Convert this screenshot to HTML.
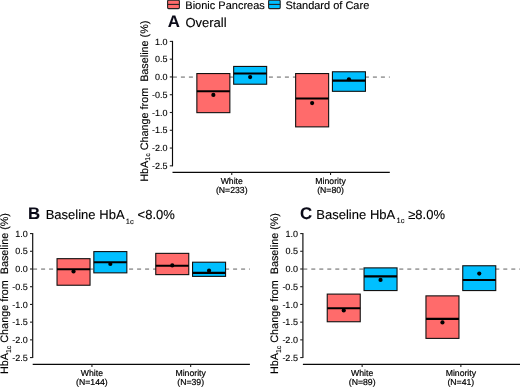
<!DOCTYPE html>
<html><head><meta charset="utf-8"><style>
html,body{margin:0;padding:0;background:#fff;width:520px;height:387px;overflow:hidden}
#wrap{will-change:transform;width:520px;height:387px}
svg{display:block;font-family:"Liberation Sans", sans-serif;text-rendering:geometricPrecision}
</style></head><body>
<div id="wrap"><svg width="520" height="387" viewBox="0 0 520 387">
<rect width="520" height="387" fill="#fff"/>

<rect x="167.6" y="0.3" width="11.8" height="8.3" rx="1" fill="#FF6B6B" stroke="#222" stroke-width="1.1"/>
<line x1="167.6" y1="4.4" x2="179.4" y2="4.4" stroke="#222" stroke-width="1.1"/>
<text x="185.3" y="8.7" font-size="11" fill="#000" stroke="#000" stroke-width="0.12">Bionic Pancreas</text>
<rect x="268.6" y="0.3" width="11.6" height="8.3" rx="1" fill="#00BFFF" stroke="#222" stroke-width="1.1"/>
<line x1="268.6" y1="4.4" x2="280.2" y2="4.4" stroke="#222" stroke-width="1.1"/>
<text x="285.5" y="8.7" font-size="11" fill="#000" stroke="#000" stroke-width="0.12">Standard of Care</text>

<line x1="172.90" y1="77.15" x2="389.80" y2="77.15" stroke="#A4A4A4" stroke-width="1.8" stroke-dasharray="4 4"/>
<rect x="196.86" y="73.55" width="33.00" height="39.10" fill="#FF6B6B" stroke="#111" stroke-width="1.1"/>
<line x1="196.86" y1="91.32" x2="229.86" y2="91.32" stroke="#000" stroke-width="2.1"/>
<circle cx="213.36" cy="94.88" r="2.1" fill="#000"/>
<rect x="233.66" y="66.44" width="33.00" height="17.78" fill="#00BFFF" stroke="#111" stroke-width="1.1"/>
<line x1="233.66" y1="73.55" x2="266.66" y2="73.55" stroke="#000" stroke-width="2.1"/>
<circle cx="250.16" cy="77.10" r="2.1" fill="#000"/>
<rect x="295.64" y="73.55" width="33.00" height="53.32" fill="#FF6B6B" stroke="#111" stroke-width="1.1"/>
<line x1="295.64" y1="98.43" x2="328.64" y2="98.43" stroke="#000" stroke-width="2.1"/>
<circle cx="312.14" cy="103.05" r="2.1" fill="#000"/>
<rect x="332.44" y="71.77" width="33.00" height="19.55" fill="#00BFFF" stroke="#111" stroke-width="1.1"/>
<line x1="332.44" y1="80.66" x2="365.44" y2="80.66" stroke="#000" stroke-width="2.1"/>
<circle cx="348.94" cy="79.23" r="2.1" fill="#000"/>
<line x1="172.50" y1="40.90" x2="172.50" y2="166.32" stroke="#080808" stroke-width="1.15"/>
<line x1="169.80" y1="41.40" x2="172.50" y2="41.40" stroke="#222" stroke-width="1.1"/>
<text x="167.50" y="44.60" text-anchor="end" font-size="9" fill="#000" stroke="#000" stroke-width="0.1">1.0</text>
<line x1="169.80" y1="59.18" x2="172.50" y2="59.18" stroke="#222" stroke-width="1.1"/>
<text x="167.50" y="62.38" text-anchor="end" font-size="9" fill="#000" stroke="#000" stroke-width="0.1">0.5</text>
<line x1="169.80" y1="76.95" x2="172.50" y2="76.95" stroke="#222" stroke-width="1.1"/>
<text x="167.50" y="80.15" text-anchor="end" font-size="9" fill="#000" stroke="#000" stroke-width="0.1">0.0</text>
<line x1="169.80" y1="94.72" x2="172.50" y2="94.72" stroke="#222" stroke-width="1.1"/>
<text x="167.50" y="97.92" text-anchor="end" font-size="9" fill="#000" stroke="#000" stroke-width="0.1">-0.5</text>
<line x1="169.80" y1="112.50" x2="172.50" y2="112.50" stroke="#222" stroke-width="1.1"/>
<text x="167.50" y="115.70" text-anchor="end" font-size="9" fill="#000" stroke="#000" stroke-width="0.1">-1.0</text>
<line x1="169.80" y1="130.28" x2="172.50" y2="130.28" stroke="#222" stroke-width="1.1"/>
<text x="167.50" y="133.47" text-anchor="end" font-size="9" fill="#000" stroke="#000" stroke-width="0.1">-1.5</text>
<line x1="169.80" y1="148.05" x2="172.50" y2="148.05" stroke="#222" stroke-width="1.1"/>
<text x="167.50" y="151.25" text-anchor="end" font-size="9" fill="#000" stroke="#000" stroke-width="0.1">-2.0</text>
<line x1="169.80" y1="165.82" x2="172.50" y2="165.82" stroke="#222" stroke-width="1.1"/>
<text x="167.50" y="169.02" text-anchor="end" font-size="9" fill="#000" stroke="#000" stroke-width="0.1">-2.5</text>
<line x1="172.50" y1="172.30" x2="389.80" y2="172.30" stroke="#080808" stroke-width="1.15"/>
<line x1="231.76" y1="172.30" x2="231.76" y2="175.00" stroke="#222" stroke-width="1.1"/>
<text x="231.76" y="183.90" text-anchor="middle" font-size="8.7" fill="#000" stroke="#000" stroke-width="0.2">White</text>
<text x="231.76" y="193.10" text-anchor="middle" font-size="8.7" fill="#000" stroke="#000" stroke-width="0.2">(N=233)</text>
<line x1="330.54" y1="172.30" x2="330.54" y2="175.00" stroke="#222" stroke-width="1.1"/>
<text x="330.54" y="183.90" text-anchor="middle" font-size="8.7" fill="#000" stroke="#000" stroke-width="0.2">Minority</text>
<text x="330.54" y="193.10" text-anchor="middle" font-size="8.7" fill="#000" stroke="#000" stroke-width="0.2">(N=80)</text>
<text transform="translate(148.00,181.70) rotate(-90)" x="0" y="0" font-size="10.8" fill="#000" stroke="#000" stroke-width="0.15">HbA<tspan font-size="7" dy="2.3">1c</tspan><tspan dy="-2.3"> Change from&#160; Baseline (%)</tspan></text>
<text x="167.8" y="26.8" font-size="16.8" font-weight="bold" fill="#0a0a18" stroke="#0a0a18" stroke-width="0.08">A</text>
<text x="185.4" y="27.2" font-size="13" word-spacing="0.2" fill="#000" stroke="#000" stroke-width="0.12">Overall</text>
<line x1="33.10" y1="269.20" x2="249.90" y2="269.20" stroke="#A4A4A4" stroke-width="1.8" stroke-dasharray="4 4"/>
<rect x="57.04" y="258.67" width="33.00" height="26.57" fill="#FF6B6B" stroke="#111" stroke-width="1.1"/>
<line x1="57.04" y1="269.30" x2="90.04" y2="269.30" stroke="#000" stroke-width="2.1"/>
<circle cx="73.54" cy="271.43" r="2.1" fill="#000"/>
<rect x="93.84" y="251.59" width="33.00" height="21.26" fill="#00BFFF" stroke="#111" stroke-width="1.1"/>
<line x1="93.84" y1="262.21" x2="126.84" y2="262.21" stroke="#000" stroke-width="2.1"/>
<circle cx="110.34" cy="263.99" r="2.1" fill="#000"/>
<rect x="155.76" y="253.36" width="33.00" height="21.26" fill="#FF6B6B" stroke="#111" stroke-width="1.1"/>
<line x1="155.76" y1="265.76" x2="188.76" y2="265.76" stroke="#000" stroke-width="2.1"/>
<circle cx="172.26" cy="265.40" r="2.1" fill="#000"/>
<rect x="192.56" y="262.21" width="33.00" height="14.17" fill="#00BFFF" stroke="#111" stroke-width="1.1"/>
<line x1="192.56" y1="272.84" x2="225.56" y2="272.84" stroke="#000" stroke-width="2.1"/>
<circle cx="209.06" cy="270.72" r="2.1" fill="#000"/>
<line x1="32.70" y1="233.07" x2="32.70" y2="358.07" stroke="#080808" stroke-width="1.15"/>
<line x1="30.00" y1="233.57" x2="32.70" y2="233.57" stroke="#222" stroke-width="1.1"/>
<text x="27.70" y="236.77" text-anchor="end" font-size="9" fill="#000" stroke="#000" stroke-width="0.1">1.0</text>
<line x1="30.00" y1="251.28" x2="32.70" y2="251.28" stroke="#222" stroke-width="1.1"/>
<text x="27.70" y="254.48" text-anchor="end" font-size="9" fill="#000" stroke="#000" stroke-width="0.1">0.5</text>
<line x1="30.00" y1="269.00" x2="32.70" y2="269.00" stroke="#222" stroke-width="1.1"/>
<text x="27.70" y="272.20" text-anchor="end" font-size="9" fill="#000" stroke="#000" stroke-width="0.1">0.0</text>
<line x1="30.00" y1="286.71" x2="32.70" y2="286.71" stroke="#222" stroke-width="1.1"/>
<text x="27.70" y="289.91" text-anchor="end" font-size="9" fill="#000" stroke="#000" stroke-width="0.1">-0.5</text>
<line x1="30.00" y1="304.43" x2="32.70" y2="304.43" stroke="#222" stroke-width="1.1"/>
<text x="27.70" y="307.63" text-anchor="end" font-size="9" fill="#000" stroke="#000" stroke-width="0.1">-1.0</text>
<line x1="30.00" y1="322.14" x2="32.70" y2="322.14" stroke="#222" stroke-width="1.1"/>
<text x="27.70" y="325.34" text-anchor="end" font-size="9" fill="#000" stroke="#000" stroke-width="0.1">-1.5</text>
<line x1="30.00" y1="339.86" x2="32.70" y2="339.86" stroke="#222" stroke-width="1.1"/>
<text x="27.70" y="343.06" text-anchor="end" font-size="9" fill="#000" stroke="#000" stroke-width="0.1">-2.0</text>
<line x1="30.00" y1="357.57" x2="32.70" y2="357.57" stroke="#222" stroke-width="1.1"/>
<text x="27.70" y="360.77" text-anchor="end" font-size="9" fill="#000" stroke="#000" stroke-width="0.1">-2.5</text>
<line x1="32.70" y1="364.40" x2="249.90" y2="364.40" stroke="#080808" stroke-width="1.15"/>
<line x1="91.94" y1="364.40" x2="91.94" y2="367.10" stroke="#222" stroke-width="1.1"/>
<text x="91.94" y="376.00" text-anchor="middle" font-size="8.7" fill="#000" stroke="#000" stroke-width="0.2">White</text>
<text x="91.94" y="385.20" text-anchor="middle" font-size="8.7" fill="#000" stroke="#000" stroke-width="0.2">(N=144)</text>
<line x1="190.66" y1="364.40" x2="190.66" y2="367.10" stroke="#222" stroke-width="1.1"/>
<text x="190.66" y="376.00" text-anchor="middle" font-size="8.7" fill="#000" stroke="#000" stroke-width="0.2">Minority</text>
<text x="190.66" y="385.20" text-anchor="middle" font-size="8.7" fill="#000" stroke="#000" stroke-width="0.2">(N=39)</text>
<text transform="translate(8.20,374.10) rotate(-90)" x="0" y="0" font-size="10.8" fill="#000" stroke="#000" stroke-width="0.15">HbA<tspan font-size="7" dy="2.3">1c</tspan><tspan dy="-2.3"> Change from&#160; Baseline (%)</tspan></text>
<text x="27.9" y="219.3" font-size="16.8" font-weight="bold" fill="#0a0a18" stroke="#0a0a18" stroke-width="0.08">B</text>
<text x="45.7" y="219.1" font-size="13" word-spacing="0.2" fill="#000" stroke="#000" stroke-width="0.12">Baseline HbA<tspan font-size="7.5" dx="1.2" dy="4.4">1c</tspan><tspan dy="-4.4"> &lt;8.0%</tspan></text>
<line x1="303.30" y1="269.20" x2="520.10" y2="269.20" stroke="#A4A4A4" stroke-width="1.8" stroke-dasharray="4 4"/>
<rect x="327.24" y="294.10" width="33.00" height="27.64" fill="#FF6B6B" stroke="#111" stroke-width="1.1"/>
<line x1="327.24" y1="308.27" x2="360.24" y2="308.27" stroke="#000" stroke-width="2.1"/>
<circle cx="343.74" cy="310.40" r="2.1" fill="#000"/>
<rect x="364.04" y="267.88" width="33.00" height="22.68" fill="#00BFFF" stroke="#111" stroke-width="1.1"/>
<line x1="364.04" y1="276.39" x2="397.04" y2="276.39" stroke="#000" stroke-width="2.1"/>
<circle cx="380.54" cy="279.93" r="2.1" fill="#000"/>
<rect x="425.96" y="295.87" width="33.00" height="42.52" fill="#FF6B6B" stroke="#111" stroke-width="1.1"/>
<line x1="425.96" y1="318.90" x2="458.96" y2="318.90" stroke="#000" stroke-width="2.1"/>
<circle cx="442.46" cy="322.44" r="2.1" fill="#000"/>
<rect x="462.76" y="265.76" width="33.00" height="24.80" fill="#00BFFF" stroke="#111" stroke-width="1.1"/>
<line x1="462.76" y1="279.93" x2="495.76" y2="279.93" stroke="#000" stroke-width="2.1"/>
<circle cx="479.26" cy="273.55" r="2.1" fill="#000"/>
<line x1="302.90" y1="233.07" x2="302.90" y2="358.07" stroke="#080808" stroke-width="1.15"/>
<line x1="300.20" y1="233.57" x2="302.90" y2="233.57" stroke="#222" stroke-width="1.1"/>
<text x="297.90" y="236.77" text-anchor="end" font-size="9" fill="#000" stroke="#000" stroke-width="0.1">1.0</text>
<line x1="300.20" y1="251.28" x2="302.90" y2="251.28" stroke="#222" stroke-width="1.1"/>
<text x="297.90" y="254.48" text-anchor="end" font-size="9" fill="#000" stroke="#000" stroke-width="0.1">0.5</text>
<line x1="300.20" y1="269.00" x2="302.90" y2="269.00" stroke="#222" stroke-width="1.1"/>
<text x="297.90" y="272.20" text-anchor="end" font-size="9" fill="#000" stroke="#000" stroke-width="0.1">0.0</text>
<line x1="300.20" y1="286.71" x2="302.90" y2="286.71" stroke="#222" stroke-width="1.1"/>
<text x="297.90" y="289.91" text-anchor="end" font-size="9" fill="#000" stroke="#000" stroke-width="0.1">-0.5</text>
<line x1="300.20" y1="304.43" x2="302.90" y2="304.43" stroke="#222" stroke-width="1.1"/>
<text x="297.90" y="307.63" text-anchor="end" font-size="9" fill="#000" stroke="#000" stroke-width="0.1">-1.0</text>
<line x1="300.20" y1="322.14" x2="302.90" y2="322.14" stroke="#222" stroke-width="1.1"/>
<text x="297.90" y="325.34" text-anchor="end" font-size="9" fill="#000" stroke="#000" stroke-width="0.1">-1.5</text>
<line x1="300.20" y1="339.86" x2="302.90" y2="339.86" stroke="#222" stroke-width="1.1"/>
<text x="297.90" y="343.06" text-anchor="end" font-size="9" fill="#000" stroke="#000" stroke-width="0.1">-2.0</text>
<line x1="300.20" y1="357.57" x2="302.90" y2="357.57" stroke="#222" stroke-width="1.1"/>
<text x="297.90" y="360.77" text-anchor="end" font-size="9" fill="#000" stroke="#000" stroke-width="0.1">-2.5</text>
<line x1="302.90" y1="364.40" x2="520.10" y2="364.40" stroke="#080808" stroke-width="1.15"/>
<line x1="362.14" y1="364.40" x2="362.14" y2="367.10" stroke="#222" stroke-width="1.1"/>
<text x="362.14" y="376.00" text-anchor="middle" font-size="8.7" fill="#000" stroke="#000" stroke-width="0.2">White</text>
<text x="362.14" y="385.20" text-anchor="middle" font-size="8.7" fill="#000" stroke="#000" stroke-width="0.2">(N=89)</text>
<line x1="460.86" y1="364.40" x2="460.86" y2="367.10" stroke="#222" stroke-width="1.1"/>
<text x="460.86" y="376.00" text-anchor="middle" font-size="8.7" fill="#000" stroke="#000" stroke-width="0.2">Minority</text>
<text x="460.86" y="385.20" text-anchor="middle" font-size="8.7" fill="#000" stroke="#000" stroke-width="0.2">(N=41)</text>
<text transform="translate(278.40,374.10) rotate(-90)" x="0" y="0" font-size="10.8" fill="#000" stroke="#000" stroke-width="0.15">HbA<tspan font-size="7" dy="2.3">1c</tspan><tspan dy="-2.3"> Change from&#160; Baseline (%)</tspan></text>
<text x="300.1" y="218.8" font-size="16.8" font-weight="bold" fill="#0a0a18" stroke="#0a0a18" stroke-width="0.08">C</text>
<text x="316.3" y="219.0" font-size="13" word-spacing="0.2" fill="#000" stroke="#000" stroke-width="0.12">Baseline HbA<tspan font-size="7.5" dx="1.2" dy="4.4">1c</tspan><tspan dy="-4.4"> &#8805;8.0%</tspan></text>
</svg></div>
</body></html>
